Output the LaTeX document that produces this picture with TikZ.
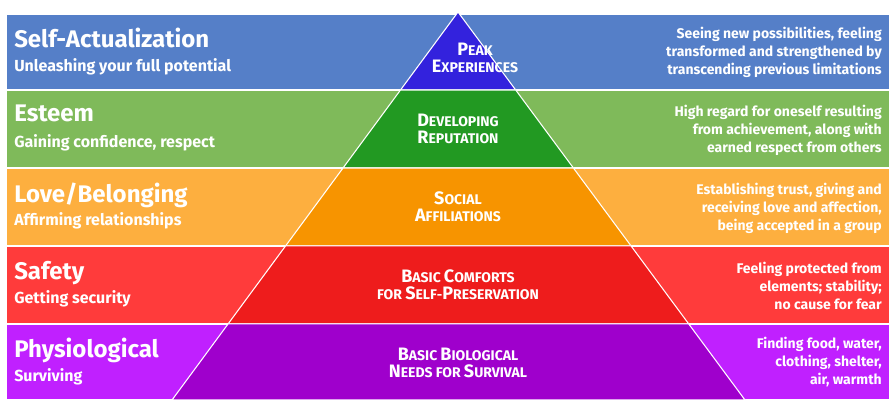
\documentclass[tikz,border=0pt]{standalone}
\usepackage{fontspec}
\setmainfont{Fira Sans}
\usetikzlibrary{calc}
\definecolor{bandA}{HTML}{557FC8}
\definecolor{pyrA}{HTML}{3322DD}
\definecolor{bandB}{HTML}{7FBA5A}
\definecolor{pyrB}{HTML}{229922}
\definecolor{bandC}{HTML}{FDAF3F}
\definecolor{pyrC}{HTML}{F79400}
\definecolor{bandD}{HTML}{FF3B3B}
\definecolor{pyrD}{HTML}{EE1C1C}
\definecolor{bandE}{HTML}{C020FF}
\definecolor{pyrE}{HTML}{9F00CC}
\newcommand{\bigsc}[2]{{\fontsize{13.5}{16}\selectfont #1}{\fontsize{10.5}{16}\selectfont #2}}
\tikzstyle{band} = [draw=white, line width=0.8pt]
\tikzstyle{level} = [anchor=north west, text=white, font=\bfseries\fontsize{18}{20}\selectfont, inner sep=0pt]
\tikzstyle{need} = [anchor=north west, text=white, font=\bfseries\fontsize{12}{14}\selectfont, inner sep=0pt]
\tikzstyle{detail} = [anchor=east, text=white, align=right, font=\bfseries\fontsize{10.5}{13.5}\selectfont, inner sep=0pt]
\tikzstyle{tier} = [text=white, align=center, font=\bfseries, inner sep=0pt]
\begin{document}
\begin{tikzpicture}[x=0.75pt, y=-0.75pt]
	\useasboundingbox (0,0) rectangle (896,416);
	% bands
	\draw [band, fill=bandA] (6,14) rectangle (890,90);
	\draw [band, fill=bandB] (6,90) rectangle (890,168);
	\draw [band, fill=bandC] (6,168) rectangle (890,246);
	\draw [band, fill=bandD] (6,246) rectangle (890,324);
	\draw [band, fill=bandE] (6,324) rectangle (890,400);

	% pyramid
	\coordinate (apex) at (458,12);
	\coordinate (baseL) at (172,400);
	\coordinate (baseR) at (745,400);
	\draw [band, fill=pyrA] (apex) -- ($(apex)!0.201!(baseR)$) -- ($(apex)!0.201!(baseL)$) -- cycle;
	\draw [band, fill=pyrB] ($(apex)!0.201!(baseL)$) -- ($(apex)!0.201!(baseR)$) -- ($(apex)!0.402!(baseR)$) -- ($(apex)!0.402!(baseL)$) -- cycle;
	\draw [band, fill=pyrC] ($(apex)!0.402!(baseL)$) -- ($(apex)!0.402!(baseR)$) -- ($(apex)!0.603!(baseR)$) -- ($(apex)!0.603!(baseL)$) -- cycle;
	\draw [band, fill=pyrD] ($(apex)!0.603!(baseL)$) -- ($(apex)!0.603!(baseR)$) -- ($(apex)!0.804!(baseR)$) -- ($(apex)!0.804!(baseL)$) -- cycle;
	\draw [band, fill=pyrE] ($(apex)!0.804!(baseL)$) -- ($(apex)!0.804!(baseR)$) -- (baseR) -- (baseL) -- cycle;

	% left labels
	\node (selfT) [level] at (14,28) {Self-Actualization};
	\node (selfS) [need] at (14,58) {Unleashing your full potential};
	\node (esteemT) [level] at (14,105) {Esteem};
	\node (esteemS) [need] at (14,134) {Gaining confidence, respect};
	\node (loveT) [level] at (14,183) {Love/Belonging};
	\node (loveS) [need] at (14,212) {Affirming relationships};
	\node (safeT) [level] at (14,261) {Safety};
	\node (safeS) [need] at (14,290) {Getting security};
	\node (physT) [level] at (14,338) {Physiological};
	\node (physS) [need] at (14,368) {Surviving};

	% pyramid labels
	\node (peak) [tier] at (475,58) {\bigsc{P}{EAK}\\[1pt]\bigsc{E}{XPERIENCES}};
	\node (repute) [tier] at (458,129) {\bigsc{D}{EVELOPING}\\[1pt]\bigsc{R}{EPUTATION}};
	\node (social) [tier] at (458,207) {\bigsc{S}{OCIAL}\\[1pt]\bigsc{A}{FFILIATIONS}};
	\node (comfort) [tier] at (458,285) {\bigsc{B}{ASIC} \bigsc{C}{OMFORTS}\\[1pt]{\fontsize{10.5}{16}\selectfont FOR }\bigsc{S}{ELF}-\bigsc{P}{RESERVATION}};
	\node (biology) [tier] at (458,363) {\bigsc{B}{ASIC} \bigsc{B}{IOLOGICAL}\\[1pt]\bigsc{N}{EEDS} {\fontsize{10.5}{16}\selectfont FOR }\bigsc{S}{URVIVAL}};

	% right descriptions
	\node (selfD) [detail] at (882,52) {Seeing new possibilities, feeling\\transformed and strengthened by\\transcending previous limitations};
	\node (esteemD) [detail] at (882,130) {High regard for oneself resulting\\from achievement, along with\\earned respect from others};
	\node (loveD) [detail] at (882,208) {Establishing trust, giving and\\receiving love and affection,\\being accepted in a group};
	\node (safeD) [detail] at (882,286) {Feeling protected from\\elements; stability;\\no cause for fear};
	\node (physD) [detail] at (882,362) {Finding food, water,\\clothing, shelter,\\air, warmth};
\end{tikzpicture}
\end{document}
